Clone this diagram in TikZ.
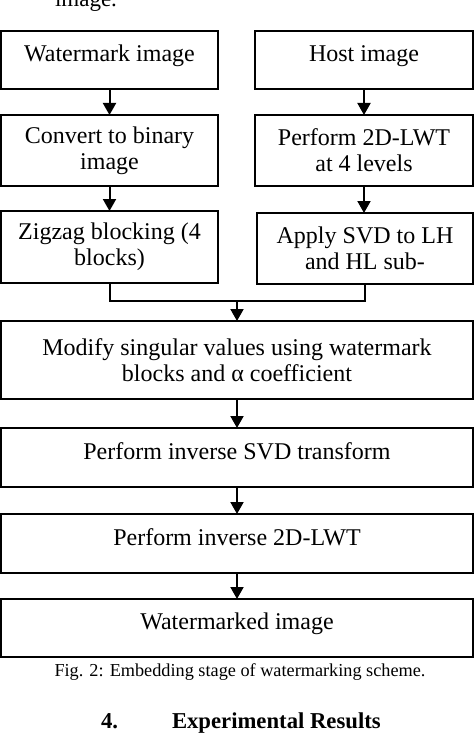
\documentclass[tikz,border=0pt]{standalone}
\usepackage{fontspec}
\setmainfont{Liberation Serif}
\usetikzlibrary{arrows.meta}
\begin{document}
\begin{tikzpicture}[x=1pt,y=-1pt,
  box/.style={draw, line width=2pt, rectangle, outer sep=0pt, inner sep=0pt,
    anchor=north west, align=center, font=\fontsize{24}{26}\selectfont},
  one/.style={text height=16pt, text depth=12.4pt},
  arr/.style={line width=2pt, -{Triangle[length=12pt,width=13pt]}},
  ln/.style={line width=2pt},
  txt/.style={inner sep=0pt, outer sep=0pt}]
\useasboundingbox (0,0) rectangle (474,733);
% top cut-off text
\node[txt, anchor=base, font=\fontsize{23}{25}\selectfont] (top) at (86,7) {image.};
% left column
\node[box,one,minimum width=217pt,minimum height=58pt] (wm) at (1,31) {Watermark image};
\node[box,minimum width=217pt,minimum height=71pt] (conv) at (1,115) {Convert to binary\\image};
\node[box,minimum width=217pt,minimum height=72pt] (zig) at (1,211) {Zigzag blocking (4\\blocks)};
% right column
\node[box,one,minimum width=218pt,minimum height=58pt] (host) at (255,31) {Host image};
\node[box,minimum width=218pt,minimum height=71pt] (lwt) at (255,115) {Perform 2D-LWT\\at 4 levels};
\node[box,minimum width=216pt,minimum height=71pt] (svd) at (257,213) {Apply SVD to LH\\and HL sub-};
% full-width boxes
\node[box,minimum width=472pt,minimum height=78pt] (mod) at (1,321) {Modify singular values using watermark\\blocks and α coefficient};
\node[box,one,minimum width=472pt,minimum height=59pt] (isvd) at (1,428) {Perform inverse SVD transform};
\node[box,one,minimum width=472pt,minimum height=59pt] (ilwt) at (1,514) {Perform inverse 2D-LWT};
\node[box,one,minimum width=472pt,minimum height=58pt] (wmd) at (1,599) {Watermarked image};
% connectors
\draw[arr] (wm) -- (conv);
\draw[arr] (conv) -- (zig);
\draw[arr] (host) -- (lwt);
\draw[arr] (lwt.south) -- (lwt.south |- svd.north);
\coordinate (j) at (237,301);
\draw[ln] (zig.south) -- (zig.south |- j) -- (svd.south |- j) -- (svd.south);
\draw[arr] (j) -- (mod.north);
\draw[arr] (mod) -- (isvd);
\draw[arr] (isvd) -- (ilwt);
\draw[arr] (ilwt) -- (wmd);
% caption and heading
\node[txt, anchor=base, font=\fontsize{18.25}{20}\selectfont] (cap) at (240,676) {Fig. 2: Embedding stage of watermarking scheme.};
\node[txt, anchor=base west, font=\bfseries\fontsize{22.7}{24}\selectfont] (hnum) at (101,728) {4.};
\node[txt, anchor=base west, font=\bfseries\fontsize{22.7}{24}\selectfont] (head) at (172,728) {Experimental Results};
\end{tikzpicture}
\end{document}
